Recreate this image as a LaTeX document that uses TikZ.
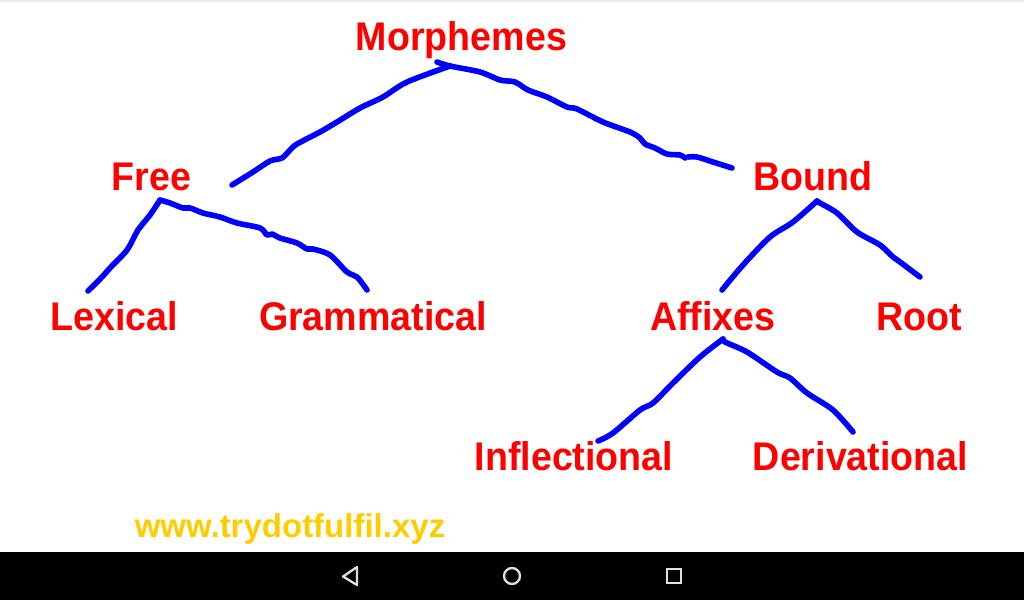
\documentclass[tikz,border=0pt]{standalone}
\usepackage{fontspec}
\setmainfont[FakeStretch=0.94]{Liberation Sans}
\newfontfamily\urlfont{Liberation Sans}
\definecolor{lblred}{RGB}{255,0,0}
\definecolor{inkblue}{RGB}{0,0,255}
\definecolor{urlyellow}{RGB}{255,204,0}
\definecolor{navgrey}{RGB}{224,224,224}
\definecolor{topgrey}{RGB}{232,232,232}
\begin{document}
\begin{tikzpicture}[x=1pt,y=-1pt,
  lbl/.style={text=lblred, anchor=base, inner sep=0pt, font=\fontsize{40}{44}\selectfont\bfseries},
  ink/.style={draw=inkblue, line width=5.6pt, line cap=round, line join=round},
  navicon/.style={draw=navgrey, line width=2.3pt}]
\useasboundingbox (0,0) rectangle (1024,600);
\fill[white] (0,0) rectangle (1024,600);
\fill[topgrey] (0,0) rectangle (1024,1.5);
% labels
\node[lbl] (morph) at (461.5,50) {Morphemes};
\node[lbl] (free) at (151.5,190) {Free};
\node[lbl] (bound) at (812.5,190) {Bound};
\node[lbl] (lex) at (114.5,330) {Lexical};
\node[lbl] (gram) at (373,330) {Grammatical};
\node[lbl] (aff) at (713,330) {Affixes};
\node[lbl] (root) at (919,330) {Root};
\node[lbl] (infl) at (574,470) {Inflectional};
\node[lbl] (deriv) at (860.5,470) {Derivational};
\node[anchor=base, inner sep=0pt, text=urlyellow, font=\urlfont\fontsize{33}{36}\selectfont\bfseries] (url) at (290,537) {www.trydotfulfil.xyz};
% connector end points
\coordinate (mA) at (450,66);
\coordinate (mA2) at (437,62);
\coordinate (fL) at (232,185);
\coordinate (bR) at (732,168);
\coordinate (fA) at (160,200);
\coordinate (lexE) at (88,291);
\coordinate (gramE) at (367,290);
\coordinate (bA) at (817,201);
\coordinate (affE) at (722,290);
\coordinate (rootE) at (920,277);
\coordinate (aA) at (723,339);
\coordinate (inflE) at (598,441);
\coordinate (derivE) at (853,432);
% hand-drawn connectors
\draw[ink] plot[smooth, tension=0.5] coordinates {(fL) (253,172) (270,161) (282,158) (290,150) (297,144) (320,132) (337,122) (360,108) (383,97) (407,82) (mA) (430,73)};
\draw[ink] plot[smooth, tension=0.5] coordinates {(mA2) (450,66) (480,72) (500,80) (515,82) (528,90) (547,97) (567,107) (577,109) (603,122) (630,132) (640,138) (645,144) (655,148) (667,154) (680,155) (685,158)};
\draw[ink] plot[smooth, tension=0.5] coordinates {(688,157) (697,157) (713,162) (bR)};
\draw[ink] plot[smooth, tension=0.5] coordinates {(fA) (150,215) (138,230) (127,250) (110,268) (102,277) (lexE)};
\draw[ink] plot[smooth, tension=0.5] coordinates {(fA) (170,203) (183,208) (190,208) (203,213) (220,217) (237,223) (260,228) (267,235) (272,234) (280,238) (297,243) (307,249) (313,249) (330,255) (347,272) (357,277) (gramE)};
\draw[ink] plot[smooth, tension=0.5] coordinates {(bA) (793,222) (770,237) (743,265) (affE)};
\draw[ink] plot[smooth, tension=0.5] coordinates {(bA) (820,203) (837,213) (857,232) (880,245) (893,257) (900,262) (rootE)};
\draw[ink] plot[smooth, tension=0.5] coordinates {(aA) (700,357) (673,383) (653,403) (640,410) (613,433) (inflE)};
\draw[ink] plot[smooth, tension=0.5] coordinates {(aA) (725,342) (747,352) (777,372) (790,378) (807,393) (833,410) (derivE)};
% navigation bar
\fill[black] (0,552) rectangle (1024,600);
\draw[navicon, line join=round] (357,567) -- (343,576.5) -- (357,585) -- cycle;
\draw[navicon] (512,576) circle (8);
\draw[navicon] (667,569) rectangle (681,583);
\end{tikzpicture}
\end{document}
